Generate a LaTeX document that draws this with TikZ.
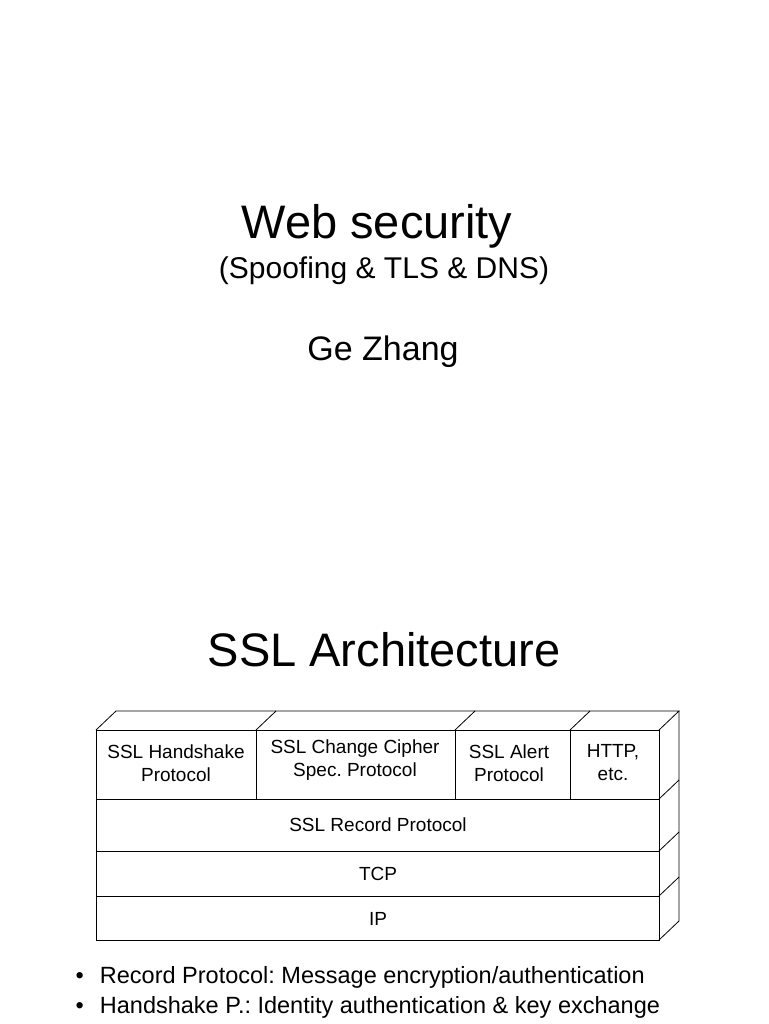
\documentclass[tikz,border=0pt]{standalone}
\usepackage{fontspec}
\setmainfont{Liberation Sans}
\frenchspacing
\begin{document}
\begin{tikzpicture}[x=1pt,y=-1pt,line width=0.8pt,
  lbl/.style={align=center,font=\fontsize{19}{23}\selectfont,inner sep=0pt}]
\useasboundingbox (0,0) rectangle (768,1024);
\node[font=\fontsize{47}{56}\selectfont] (t1) at (377,226) {Web security};
\node[font=\fontsize{30}{34}\selectfont] (t2) at (384,271) {(Spoofing \& TLS \& DNS)};
\node[font=\fontsize{34}{38}\selectfont] (t3) at (383,352) {Ge Zhang};
\node[font=\fontsize{47}{52}\selectfont] (t4) at (384,650) {SSL Architecture};
% front
\draw (96,730) rectangle (659,940);
\draw (96,799) -- (659,799) (96,851) -- (659,851) (96,896) -- (659,896);
\draw (256,730) -- (256,799) (455,730) -- (455,799) (570,730) -- (570,799);
% top
\draw (96,730) -- (116,711) -- (679,711) -- (659,730);
\draw (256,730) -- (276,711) (455,730) -- (475,711) (570,730) -- (590,711);
% side
\draw (679,711) -- (679,921) -- (659,940);
\draw (659,799) -- (679,780) (659,851) -- (679,832) (659,896) -- (679,877);
\node[lbl] (a) at (176,763) {SSL Handshake\\Protocol};
\node[lbl] (b) at (355,760) {SSL Change Cipher\\Spec. Protocol};
\node[lbl] (c) at (509,763) {SSL Alert\\Protocol};
\node[lbl] (d) at (613,763) {HTTP,\\etc.};
\node[lbl] (e) at (378,825) {SSL Record Protocol};
\node[lbl] (f) at (378,874) {TCP};
\node[lbl] (g) at (378,919) {IP};
\node[anchor=west,font=\fontsize{23.5}{26}\selectfont] (b1) at (72,977) {\textbullet\hspace{16pt}Record Protocol: Message encryption/authentication};
\node[anchor=west,font=\fontsize{23.5}{26}\selectfont] (b2) at (72,1007) {\textbullet\hspace{16pt}Handshake P.: Identity authentication \& key exchange};
\end{tikzpicture}
\end{document}
